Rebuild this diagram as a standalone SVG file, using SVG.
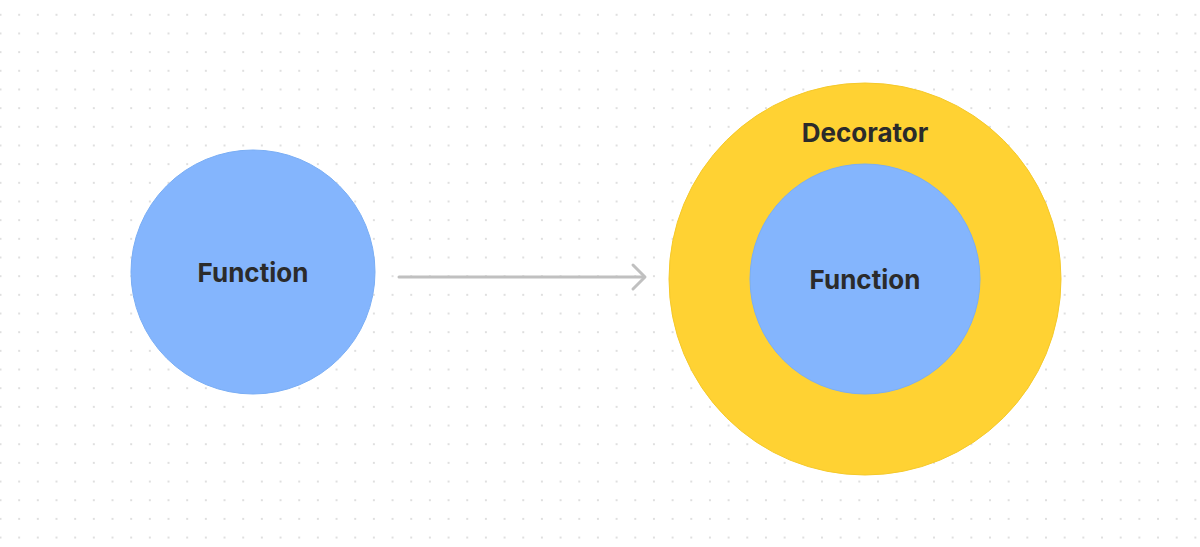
<svg xmlns="http://www.w3.org/2000/svg" width="1200" height="547" viewBox="0 0 1200 547">
<defs>
<pattern id="dots" x="-0.5" y="13.8" width="18.67" height="18.67" patternUnits="userSpaceOnUse">
<circle cx="1" cy="1" r="1" fill="#d4d4d4"/>
</pattern>
<style>
.lbl{font-family:Inter,"Liberation Sans",sans-serif;font-weight:700;font-size:26px;fill:#2b2b2b;text-anchor:middle}
.blue{fill:#84b5fd;stroke:#7aaef5;stroke-width:1}
</style>
</defs>
<rect width="1200" height="547" fill="#ffffff"/>
<rect width="1200" height="547" fill="url(#dots)"/>
<g id="connectors">
<path d="M399 277 H644" stroke="#c0c0c0" stroke-width="3" stroke-linecap="round" fill="none"/>
<path d="M633 265 L645 277 L633 289" stroke="#c0c0c0" stroke-width="3" stroke-linecap="round" stroke-linejoin="round" fill="none"/>
</g>
<g id="function1">
<circle class="blue" cx="253" cy="272" r="122"/>
<text class="lbl" x="253" y="282">Function</text>
</g>
<g id="decorator">
<circle cx="865" cy="279" r="196" fill="#ffd233" stroke="#f5c92a"/>
<text class="lbl" x="865" y="142">Decorator</text>
</g>
<g id="function2">
<circle class="blue" cx="865" cy="279" r="115"/>
<text class="lbl" x="865" y="289">Function</text>
</g>
</svg>
